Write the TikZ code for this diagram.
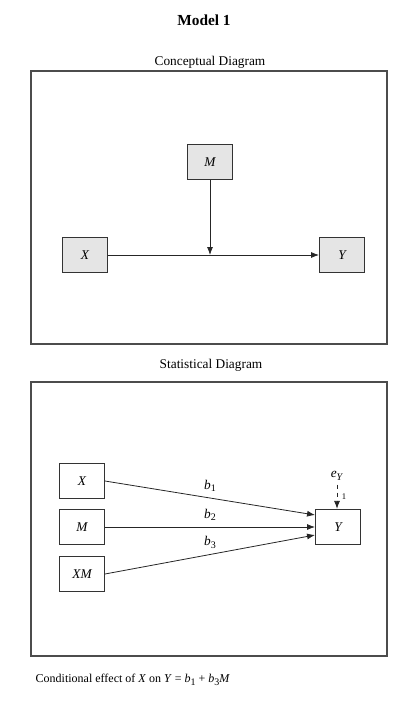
\documentclass[tikz,border=0pt]{standalone}
\usepackage{fontspec}
\setmainfont{Liberation Serif}
\usetikzlibrary{arrows.meta}
\newcommand{\lowidx}[1]{\raisebox{-0.45ex}{\fontsize{7.5}{8}\selectfont #1}}

\begin{document}
\begin{tikzpicture}[x=0.75pt, y=-0.75pt, font=\fontsize{10}{12}\selectfont,
    frame/.style={draw=black!70, line width=0.8pt},
    var/.style={draw=black!80, line width=0.7pt, minimum width=33.75pt, minimum height=26.5pt, inner sep=0pt, font=\fontsize{10}{12}\selectfont\itshape},
    cvar/.style={var, fill=black!10},
    path/.style={draw=black!85, line width=0.6pt, -{Latex[length=6pt, width=4.5pt]}}]
    \useasboundingbox (0,0) rectangle (409,707);

    % First, the titles and the two frames
        \node (title) at (204,20) {\fontsize{11.5}{14}\selectfont\bfseries Model 1};
        \node (ctitle) at (210,62) {Conceptual Diagram};
        \draw [frame] (31,71) rectangle (387,344);
        \node (stitle) at (211,365) {Statistical Diagram};
        \draw [frame] (31,382) rectangle (387,656);

    % Now the conceptual diagram
        \node [cvar] (cm) at (210,162) {M};
        \node [cvar] (cx) at (85,255) {X};
        \node [cvar] (cy) at (342,255) {Y};
        \coordinate (cmid) at (210,255);
        \draw [path] (cx) -- (cy);
        \draw [path] (cm) -- (cmid);

    % Now the statistical diagram
        \node [var] (sx) at (82,481) {X};
        \node [var] (sm) at (82,527) {M};
        \node [var] (sxm) at (82,574) {XM};
        \node [var] (sy) at (338,527) {Y};
        \node (ey) at (337,476) {\textit{e}\lowidx{\textit{Y}}};
        \draw [path] (sx.east) -- ([yshift=9pt]sy.west) node [midway, above=1pt] {\textit{b}\lowidx{1}};
        \draw [path] (sm.east) -- (sy.west) node [midway, above=1pt] {\textit{b}\lowidx{2}};
        \draw [path] (sxm.east) -- ([yshift=-6pt]sy.west) node [midway, above=1pt] {\textit{b}\lowidx{3}};
        \draw [path, dashed, shorten <=-0.5pt] (ey.south) -- (ey.south |- sy.north) node [midway, right=0pt, font=\fontsize{6.5}{8}\selectfont] {1};

    % Finally the note below
        \node [anchor=west, font=\fontsize{9}{11}\selectfont] (note) at (31,680) {Conditional effect of \textit{X} on \textit{Y} = \textit{b}\lowidx{1} + \textit{b}\lowidx{3}\textit{M}};
    \end{tikzpicture}
\end{document}
